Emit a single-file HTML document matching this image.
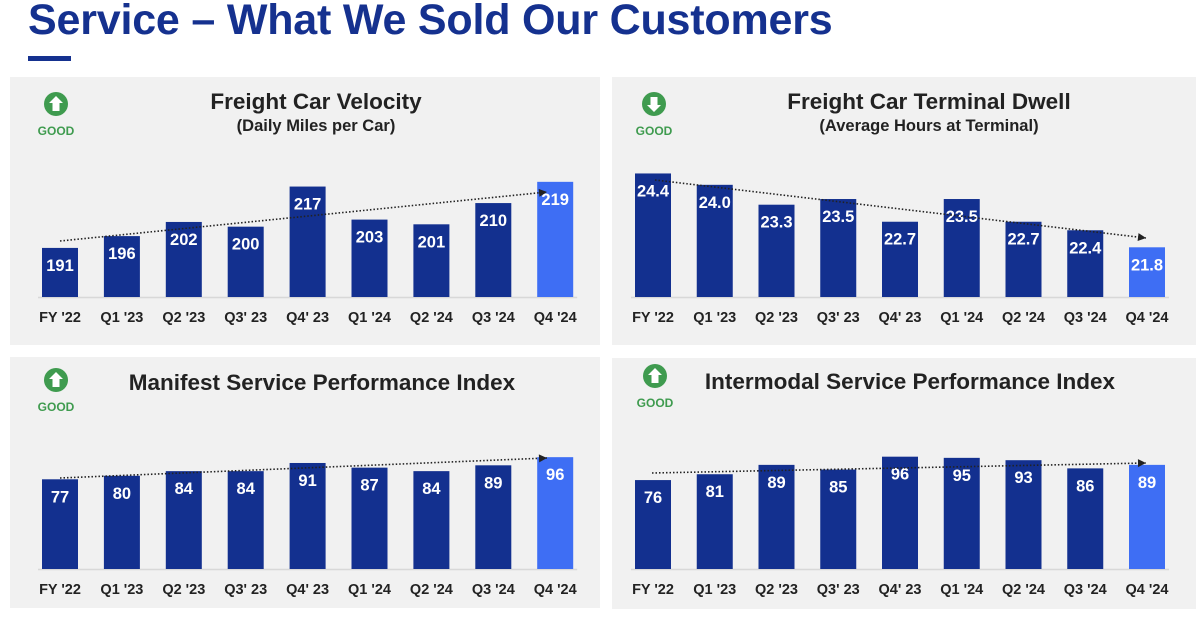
<!DOCTYPE html>
<html><head><meta charset="utf-8">
<style>
body{margin:0;width:1202px;height:622px;background:#fff;font-family:"Liberation Sans",Arial,sans-serif;overflow:hidden;position:relative}
.title{position:absolute;left:28px;top:-4px;font-size:43px;font-weight:bold;color:#15318f;letter-spacing:-0.2px;white-space:nowrap}
.uline{position:absolute;left:28px;top:56px;width:43px;height:5px;background:#15318f}
.panel{position:absolute;background:#f1f1f1}
svg{position:absolute;left:0;top:0}
</style></head><body>
<div class="title">Service – What We Sold Our Customers</div>
<div class="uline"></div>
<div class="panel" style="left:10px;top:77px;width:590px;height:268px"></div>
<div class="panel" style="left:612px;top:77px;width:584px;height:268px"></div>
<div class="panel" style="left:10px;top:357px;width:590px;height:251px"></div>
<div class="panel" style="left:612px;top:358px;width:584px;height:251px"></div>
<svg id="s" width="1202" height="622" xmlns="http://www.w3.org/2000/svg" font-family="Liberation Sans, Arial, sans-serif"></svg>
<script>
const categories = ["FY '22","Q1 '23","Q2 '23","Q3' 23","Q4' 23","Q1 '24","Q2 '24","Q3 '24","Q4 '24"];
const velocityValues = [191,196,202,200,217,203,201,210,219];
const velocityLabels = ["191","196","202","200","217","203","201","210","219"];
const dwellValues = [24.4,24.0,23.3,23.5,22.7,23.5,22.7,22.4,21.8];
const dwellLabels = ["24.4","24.0","23.3","23.5","22.7","23.5","22.7","22.4","21.8"];
const manifestValues = [77,80,84,84,91,87,84,89,96];
const manifestLabels = ["77","80","84","84","91","87","84","89","96"];
const intermodalValues = [76,81,89,85,96,95,93,86,89];
const intermodalLabels = ["76","81","89","85","96","95","93","86","89"];

const svg = document.getElementById('s');
const NS = 'http://www.w3.org/2000/svg';
function mk(tag, attrs, parent){const e=document.createElementNS(NS,tag);for(const k in attrs)e.setAttribute(k,attrs[k]);(parent||svg).appendChild(e);return e;}

function chart(cfg){
  const g = mk('g',{});
  
  
  const yScale = v => cfg.base - (v - cfg.vmin) * cfg.k;
  const xScale = i => cfg.x0 + i * cfg.pitch;
  const line = mk('line',{x1:cfg.x0-4,x2:xScale(8)+cfg.bw+4,y1:cfg.base+0.5,y2:cfg.base+0.5,stroke:'#d8d8d8','stroke-width':1.5},g);
  
  
  cfg.values.forEach((v,i)=>{
    const y = yScale(v);
    const r = mk('rect',{x:xScale(i),y:y,width:cfg.bw,height:cfg.base-y,fill:i===8?'#3e6ef4':'#13308f'},g);
    
    
    const t = mk('text',{x:xScale(i)+cfg.bw/2,y:y+cfg.lblOff,'text-anchor':'middle','font-size':16.5,'font-weight':'bold',fill:'#fff'},g);
    t.textContent = cfg.labels[i];
    
    
    const c = mk('text',{x:xScale(i)+cfg.bw/2,y:cfg.base+25,'text-anchor':'middle','font-size':14.5,'font-weight':'bold',fill:'#222'},g);
    c.textContent = categories[i];
    
    
  });
  const tl = mk('line',{x1:cfg.t[0],y1:cfg.t[1],x2:cfg.t[2],y2:cfg.t[3],stroke:'#222','stroke-width':1.6,'stroke-dasharray':'1.5 2'},g);
  
  
  const ang = Math.atan2(cfg.t[3]-cfg.t[1], cfg.t[2]-cfg.t[0]);
  const ax=cfg.t[2], ay=cfg.t[3];
  const p = [[ax,ay],[ax-8*Math.cos(ang)+4*Math.sin(ang),ay-8*Math.sin(ang)-4*Math.cos(ang)],[ax-8*Math.cos(ang)-4*Math.sin(ang),ay-8*Math.sin(ang)+4*Math.cos(ang)]];
  const ah = mk('polygon',{points:p.map(q=>q.join(',')).join(' '),fill:'#222'},g);
  
  
  const tt = mk('text',{x:cfg.tx,y:cfg.ty,'text-anchor':'middle','font-size':22.5,'font-weight':'bold',fill:'#222'},g);
  tt.textContent = cfg.title;
  
  
  if(cfg.sub){
    const st = mk('text',{x:cfg.tx,y:cfg.ty+22,'text-anchor':'middle','font-size':16.5,'font-weight':'bold',fill:'#222'},g);
    st.textContent = cfg.sub;
    
    
  }
  const ic = mk('g',{},g);
  
  
  mk('circle',{cx:cfg.ix,cy:cfg.iy,r:12,fill:'#3f9b4f'},ic);
  const d = cfg.down ? 1 : -1;
  const ix=cfg.ix, iy=cfg.iy;
  mk('polygon',{points:[[ix,iy+8*d],[ix-7,iy+1*d],[ix-3.5,iy+1*d],[ix-3.5,iy-7*d],[ix+3.5,iy-7*d],[ix+3.5,iy+1*d],[ix+7,iy+1*d]].map(q=>q.join(',')).join(' '),fill:'#fff'},ic);
  const gd = mk('text',{x:ix,y:iy+31,'text-anchor':'middle','font-size':12,'font-weight':'bold',fill:'#3f9b4f'},g);
  gd.textContent='GOOD';
  
  
}

chart({name:'velocity-chart',short:'velocity',values:velocityValues,labels:velocityLabels,base:297,vmin:170.2,k:2.36,x0:42,pitch:61.9,bw:36,lblOff:23,
  t:[60,241,547,192],title:'Freight Car Velocity',sub:'(Daily Miles per Car)',tx:316,ty:109,ix:56,iy:104});
chart({name:'dwell-chart',short:'dwell',values:dwellValues,labels:dwellLabels,base:297,vmin:20.05,k:28.4,x0:635,pitch:61.75,bw:36,lblOff:23,
  t:[655,180,1146,238],title:'Freight Car Terminal Dwell',sub:'(Average Hours at Terminal)',tx:929,ty:109,ix:654,iy:104,down:true});
chart({name:'manifest-chart',short:'manifest',values:manifestValues,labels:manifestLabels,base:569,vmin:0,k:1.165,x0:42,pitch:61.9,bw:36,lblOff:23,
  t:[60,478,547,458],title:'Manifest Service Performance Index',tx:322,ty:390,ix:56,iy:380});
chart({name:'intermodal-chart',short:'intermodal',values:intermodalValues,labels:intermodalLabels,base:569,vmin:0,k:1.17,x0:635,pitch:61.75,bw:36,lblOff:23,
  t:[652,473,1146,463],title:'Intermodal Service Performance Index',tx:910,ty:389,ix:655,iy:376});
</script>
</body></html>
